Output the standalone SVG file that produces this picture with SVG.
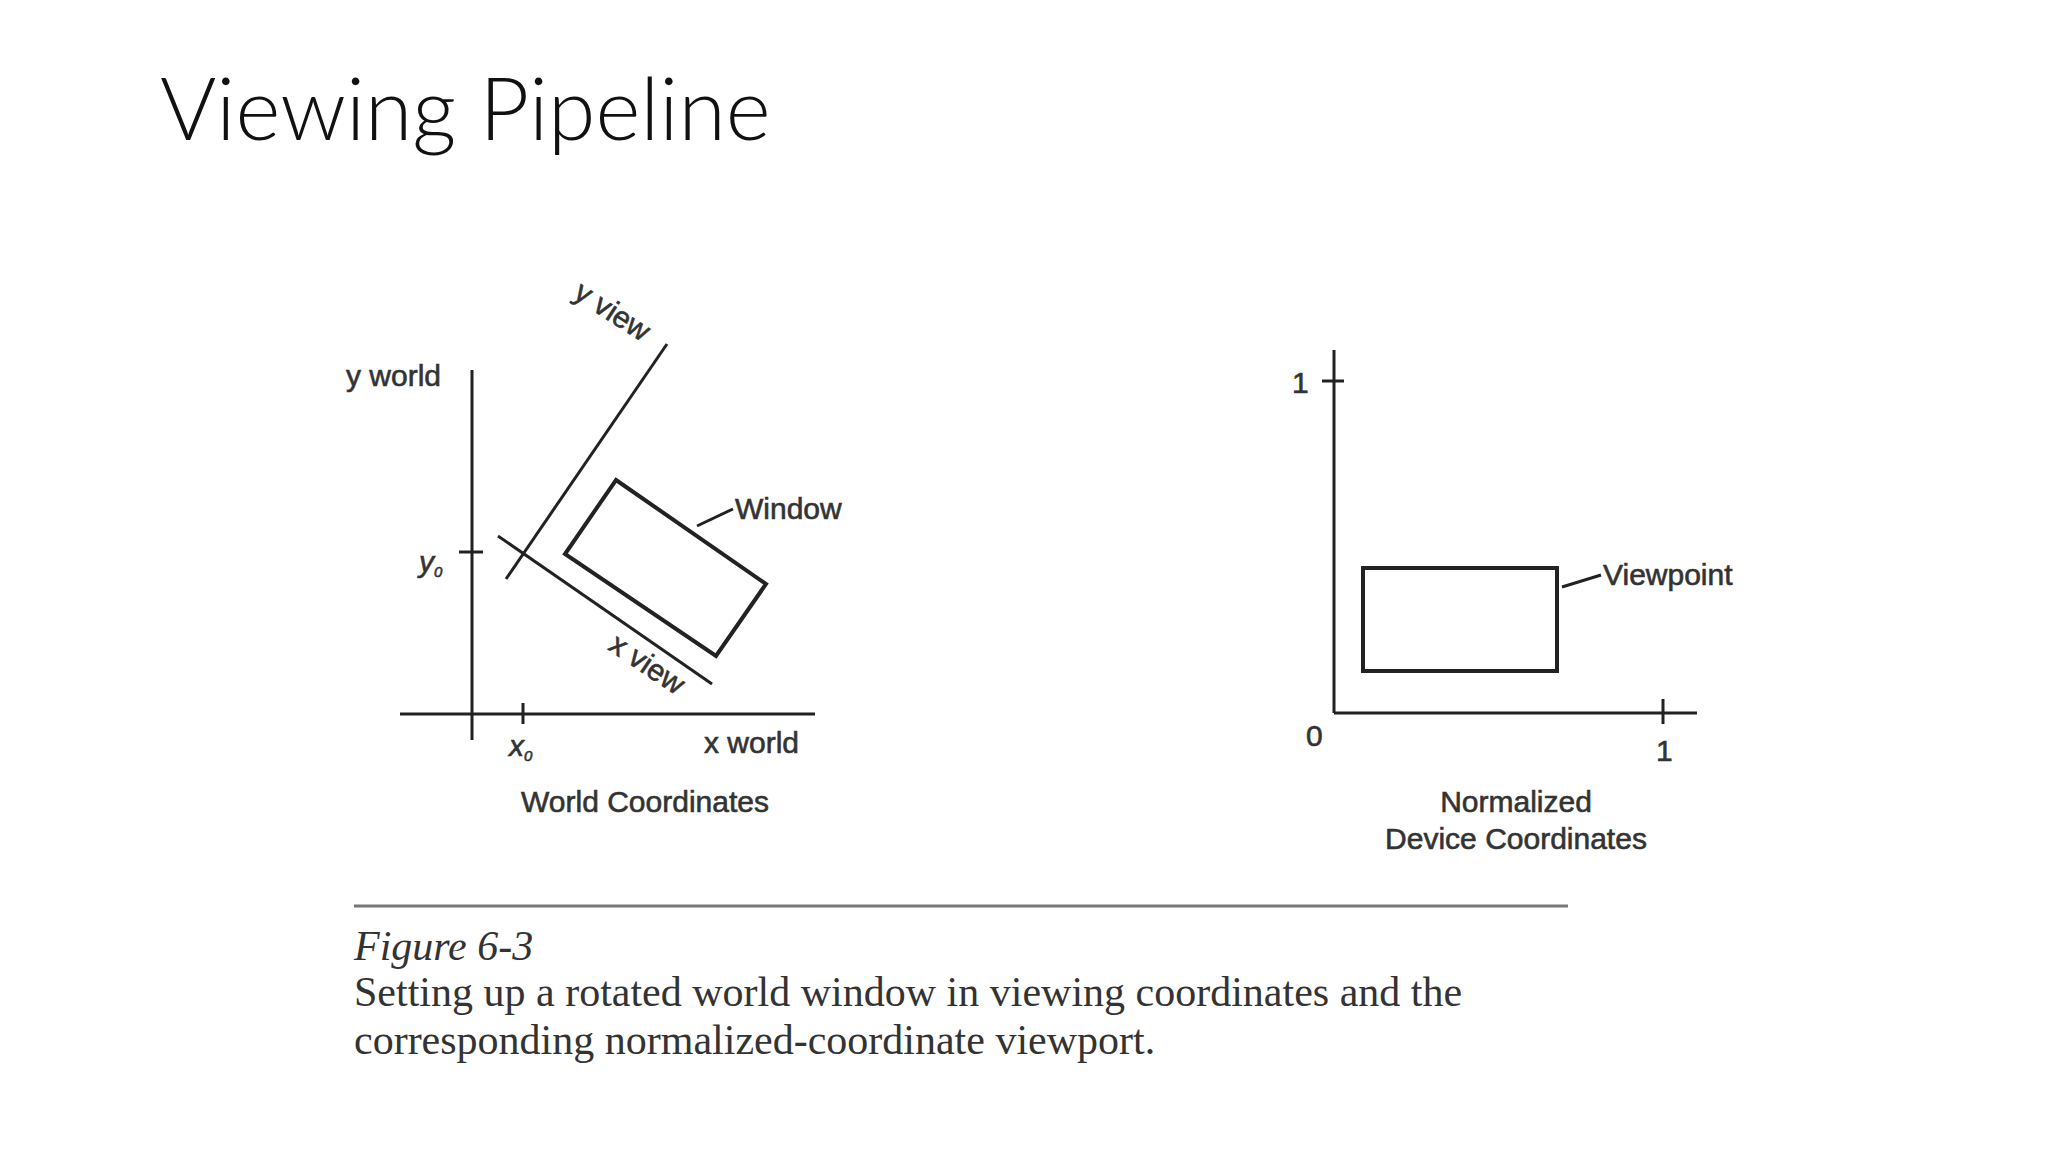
<svg xmlns="http://www.w3.org/2000/svg" width="2048" height="1152" viewBox="0 0 2048 1152">
<style>
.ln{stroke:#222;stroke-width:3;fill:none}
.bx{stroke:#222;stroke-width:4;fill:none}
.lb{font-family:"Liberation Sans",Arial,sans-serif;font-size:30px;fill:#333;stroke:#333;stroke-width:0.6}
.cap{font-family:"Liberation Serif","Times New Roman",serif;font-size:42px;fill:#333}
</style>
<rect width="2048" height="1152" fill="#fff"/>
<text x="160" y="140" font-family="Lato,'Open Sans',sans-serif" font-weight="300" font-size="86" fill="#111">Viewing Pipeline</text>
<g transform="translate(-6,-6)">
<g id="world-axes">
<line class="ln" x1="478" y1="376" x2="478" y2="746"/>
<line class="ln" x1="406" y1="720" x2="821" y2="720"/>
<line class="ln" x1="465" y1="558" x2="489" y2="558"/>
<line class="ln" x1="529" y1="709" x2="529" y2="730"/>
<text class="lb" x="352" y="392">y world</text>
<text class="lb" x="425" y="578" font-style="italic" font-size="26">y<tspan font-size="15" dy="5">0</tspan></text>
<text class="lb" x="515" y="762" font-style="italic" font-size="26">x<tspan font-size="15" dy="5">0</tspan></text>
<text class="lb" x="710" y="759">x world</text>
<text class="lb" x="651" y="818" text-anchor="middle">World Coordinates</text>
</g>
<g id="view-axes">
<line class="ln" x1="512" y1="585" x2="673" y2="350"/>
<line class="ln" x1="504" y1="542" x2="718" y2="690"/>
<text class="lb" transform="translate(578,303) rotate(33)">y view</text>
<text class="lb" transform="translate(613,655) rotate(34)">x view</text>
</g>
<g id="window">
<polygon class="bx" points="622,486 772,590 722,662 571,560"/>
<line class="ln" x1="703" y1="532" x2="739" y2="515" stroke-width="2"/>
<text class="lb" x="741" y="525">Window</text>
</g>
<g transform="translate(-6,0)">
<g id="ndc-axes">
<line class="ln" x1="1346" y1="356" x2="1346" y2="719"/>
<line class="ln" x1="1346" y1="719" x2="1709" y2="719"/>
<line class="ln" x1="1334" y1="387" x2="1356" y2="387"/>
<line class="ln" x1="1675" y1="705" x2="1675" y2="730"/>
<text class="lb" x="1304" y="399">1</text>
<text class="lb" x="1318" y="752">0</text>
<text class="lb" x="1668" y="767">1</text>
<text class="lb" x="1528" y="818" text-anchor="middle">Normalized</text>
<text class="lb" x="1528" y="855" text-anchor="middle">Device Coordinates</text>
</g>
<g id="viewport">
<rect class="bx" x="1375" y="574" width="194" height="103"/>
<line class="ln" x1="1574" y1="593" x2="1613" y2="581" stroke-width="2"/>
<text class="lb" x="1615" y="591">Viewpoint</text>
</g>
</g>
<g id="caption">
<line x1="360" y1="912" x2="1574" y2="912" stroke="#777" stroke-width="3"/>
<text class="cap" x="360" y="966" font-style="italic" font-size="36">Figure 6-3</text>
<text class="cap" x="360" y="1012">Setting up a rotated world window in viewing coordinates and the</text>
<text class="cap" x="360" y="1060">corresponding normalized-coordinate viewport.</text>
</g>
</g>
</svg>
